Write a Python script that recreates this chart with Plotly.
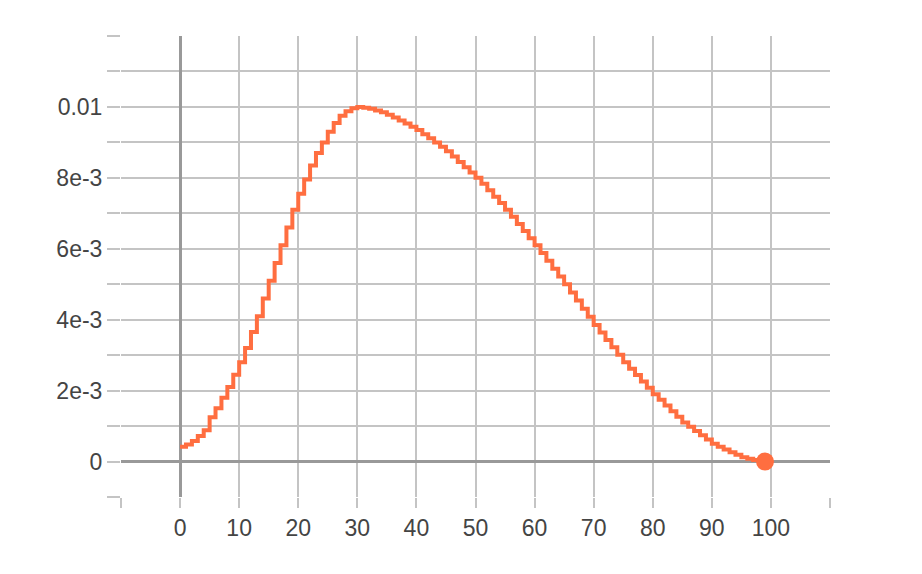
import plotly.graph_objects as go

x = list(range(100))
y_milli = [0.42,0.48,0.58,0.72,0.88,1.25,1.5,1.8,2.1,2.45,2.8,3.2,3.65,4.1,4.6,5.1,5.6,6.1,6.6,7.1,
           7.55,7.95,8.35,8.7,9.0,9.3,9.55,9.75,9.88,9.96,10.0,9.98,9.95,9.9,9.85,9.78,9.7,9.62,9.53,9.44,
           9.35,9.23,9.12,9.0,8.88,8.75,8.6,8.45,8.3,8.15,8.0,7.83,7.65,7.47,7.29,7.1,6.9,6.7,6.5,6.3,
           6.1,5.88,5.66,5.44,5.22,5.0,4.77,4.54,4.31,4.08,3.85,3.64,3.43,3.22,3.01,2.8,2.62,2.44,2.26,2.08,
           1.9,1.74,1.58,1.42,1.26,1.1,0.98,0.86,0.74,0.62,0.5,0.42,0.34,0.26,0.19,0.12,0.08,0.04,0.02,0.0]
y = [v / 1000 for v in y_milli]

xticks = list(range(-10, 111, 10))
xtext = ["" if v < 0 or v > 100 else str(v) for v in xticks]
yticks = [i / 1000 for i in range(-1, 13)]
ylabels = {0: "0", 2: "2e-3", 4: "4e-3", 6: "6e-3", 8: "8e-3", 10: "0.01"}
ytext = [ylabels.get(i, "") for i in range(-1, 13)]

color = "#ff6e40"
fig = go.Figure()
fig.add_trace(go.Scatter(x=x, y=y, mode="lines", line=dict(shape="hv", color=color, width=4)))
fig.add_trace(go.Scatter(x=[x[-1]], y=[y[-1]], mode="markers", marker=dict(color=color, size=18)))

fig.update_layout(
    width=922, height=574, showlegend=False,
    paper_bgcolor="white", plot_bgcolor="white",
    margin=dict(l=113, r=100, t=28, b=85),
    font=dict(family="Liberation Sans, Arial", size=23, color="#444"),
    xaxis=dict(range=[-10, 110], tickvals=xticks, ticktext=xtext, showgrid=True,
               gridcolor="#c4c4c4", gridwidth=2, zeroline=True, zerolinecolor="#999", zerolinewidth=3,
               ticks="outside", ticklen=10, tickcolor="#c4c4c4", tickwidth=2, showline=False),
    yaxis=dict(range=[-0.001, 0.012], tickvals=yticks, ticktext=ytext, showgrid=True,
               gridcolor="#c4c4c4", gridwidth=2, zeroline=True, zerolinecolor="#999", zerolinewidth=3,
               ticks="outside", ticklen=13, tickcolor="#c4c4c4", tickwidth=2, showline=False),
)
fig.write_html("out.html")
